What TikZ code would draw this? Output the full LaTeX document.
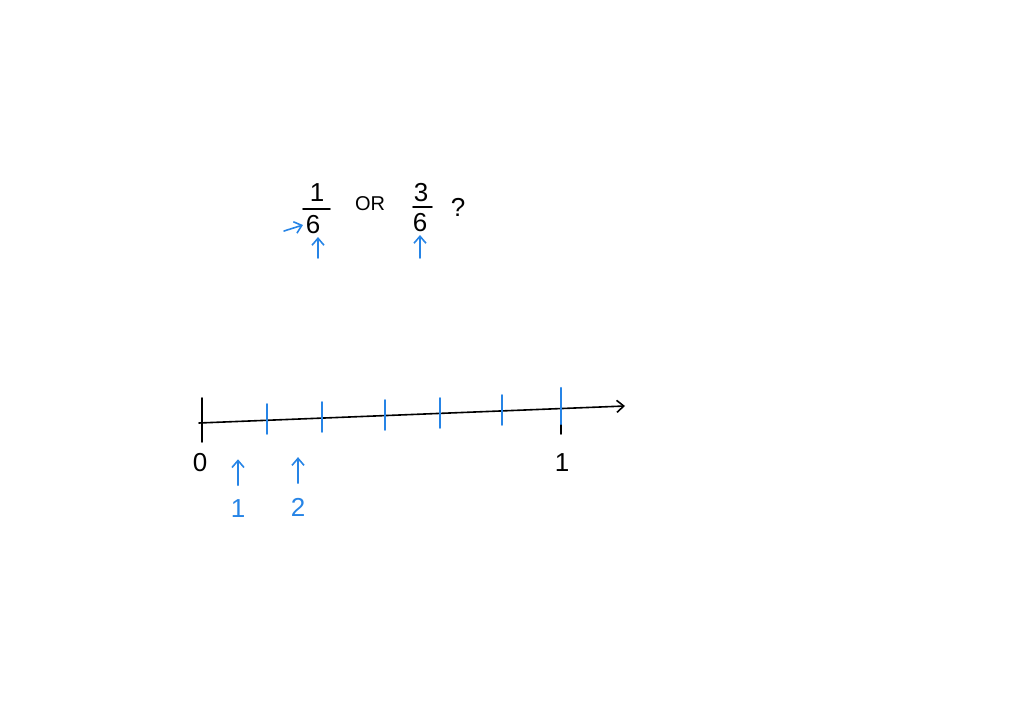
\documentclass[tikz,border=0pt]{standalone}
\usepackage{fontspec}
\setmainfont{Liberation Sans}
\usetikzlibrary{arrows.meta}
\definecolor{penblue}{RGB}{38,132,230}

\begin{document}
\begin{tikzpicture}[x=0.5pt,y=-0.5pt,line cap=round,thick,>={Straight Barb[length=3.5pt,width=6pt]}]
    \tikzstyle{txt}=[inner sep=1pt,font=\fontsize{13}{13}\selectfont]
    \tikzstyle{bluetxt}=[txt,text=penblue]
    \tikzstyle{bluearrow}=[->,draw=penblue]
    \useasboundingbox (0,0) rectangle (1024,712);

    % the question
    \node[txt] (F-1) at (317,193) {1};
    \node[txt] (F-6) at (313,225) {6};
    \node[txt] (OR) at (370,204) {{\fontsize{10}{10}\selectfont OR}};
    \node[txt] (G-3) at (421,193) {3};
    \node[txt] (G-6) at (420,223) {6};
    \node[txt] (Q) at (458,207) {?};
    \draw (303,209) -- (330,209);
    \draw (413,207) -- (432,207);

    \coordinate (A-left) at (284,231);
    \coordinate (A-under1) at (318,258);
    \coordinate (A-under3) at (420,258);
    \draw[bluearrow] (A-left) -- (F-6.west);
    \draw[bluearrow] (A-under1) -- (A-under1 |- F-6.south);
    \draw[bluearrow] (A-under3) -- (G-6.south);

    % number line
    \coordinate (L-start) at (199,423);
    \coordinate (L-end) at (625,406);
    \draw[->] (L-start) -- (L-end);
    \draw (202,398) -- (202,442);
    \foreach \x/\y in {267/419, 322/417, 385/415, 440/413, 502/410}
        \draw[penblue] (\x,\y-15) -- (\x,\y+15);
    \draw (561,408) -- (561,434);
    \draw[penblue,very thick] (561,388) -- (561,424);

    \node[txt] (N-0) at (200,463) {0};
    \node[txt] (N-1) at (562,463) {1};

    \foreach \num/\x/\y in {1/238/509, 2/298/507}
    {
        \node[bluetxt] (B-\num) at (\x,\y) {\num};
        \draw[bluearrow] ([yshift=6pt]B-\num.north) -- ++(0,-26);
    }
\end{tikzpicture}
\end{document}
